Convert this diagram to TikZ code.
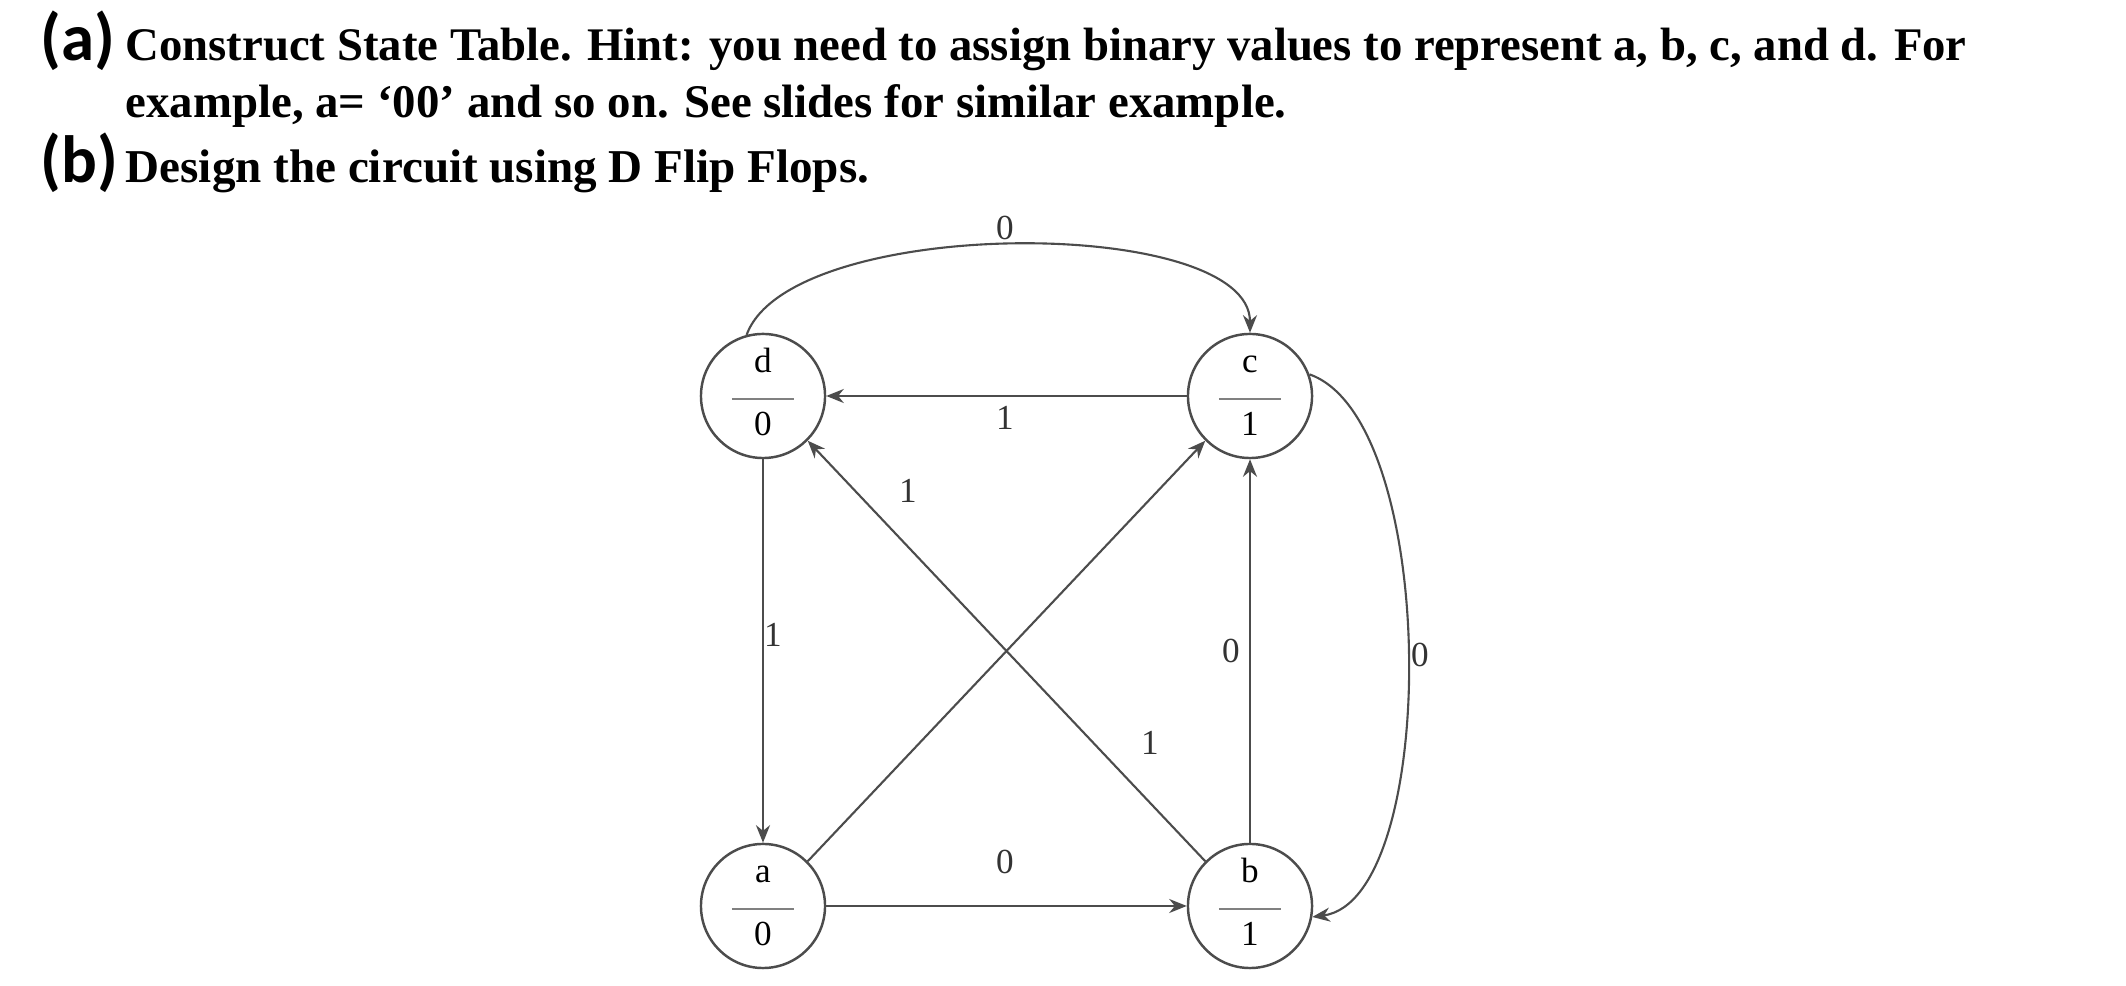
\documentclass[tikz,border=0pt]{standalone}
\usepackage{fontspec}
\setmainfont{Liberation Serif}
\newfontfamily\lblfont{Carlito}
\usetikzlibrary{arrows.meta}
\newcommand{\sv}[2]{\begin{tabular}{@{}c@{}}#1\\[-3pt]\textcolor{gray}{\rule{0.62cm}{0.5pt}}\\[-1pt]#2\end{tabular}}
\begin{document}
\begin{tikzpicture}[x=0.01cm,y=-0.01cm,
  st/.style={draw=black!70,line width=0.7pt,circle,minimum size=1.24cm,inner sep=0pt,font=\fontsize{10}{11}\selectfont},
  ed/.style={draw=black!70,line width=0.6pt,-{Stealth[length=5pt,width=4pt]}},
  lb/.style={font=\fontsize{10}{11}\selectfont,text=black!80,inner sep=0pt},
  hd/.style={anchor=base west,inner sep=0pt}]
\useasboundingbox (0,0) rectangle (2126,986);
\node[hd] (ha) at (40,61) {\lblfont\bfseries\fontsize{19}{19}\selectfont (a)};
\node[hd] (h1) at (125,61) {\resizebox{18.4cm}{!}{\bfseries Construct State Table. Hint: you need to assign binary values to represent a, b, c, and d. For}};
\node[hd] (h2) at (125,118) {\resizebox{11.6cm}{!}{\bfseries example, a= ‘00’ and so on. See slides for similar example.}};
\node[hd] (hb) at (40,183) {\lblfont\bfseries\fontsize{19}{19}\selectfont (b)};
\node[hd] (h3) at (125,183) {\resizebox{7.43cm}{!}{\bfseries Design the circuit using D Flip Flops.}};

\node[st] (d) at (763,396) {\sv{d}{0}};
\node[st] (c) at (1250,396) {\sv{c}{1}};
\node[st] (a) at (763,906) {\sv{a}{0}};
\node[st] (b) at (1250,906) {\sv{b}{1}};

\draw[ed] (d.105) .. controls (790,215) and (1250,215) .. (c.north);
\draw[ed] (c.west) -- (d.east);
\draw[ed] (d.south) -- (a.north);
\draw[ed] (a.east) -- (b.west);
\draw[ed] (b.north) -- (c.south);
\draw[ed] (b.135) -- (d.-45);
\draw[ed] (a.45) -- (c.-135);
\draw[ed] (c.20) .. controls (1440,420) and (1440,900) .. (b.-10);

\node[lb] (l1) at (1005,228) {0};
\node[lb] (l2) at (1005,418) {1};
\node[lb] (l3) at (773,635) {1};
\node[lb] (l4) at (908,491) {1};
\node[lb] (l5) at (1150,743) {1};
\node[lb] (l6) at (1231,651) {0};
\node[lb] (l7) at (1420,655) {0};
\node[lb] (l8) at (1005,862) {0};
\end{tikzpicture}
\end{document}
